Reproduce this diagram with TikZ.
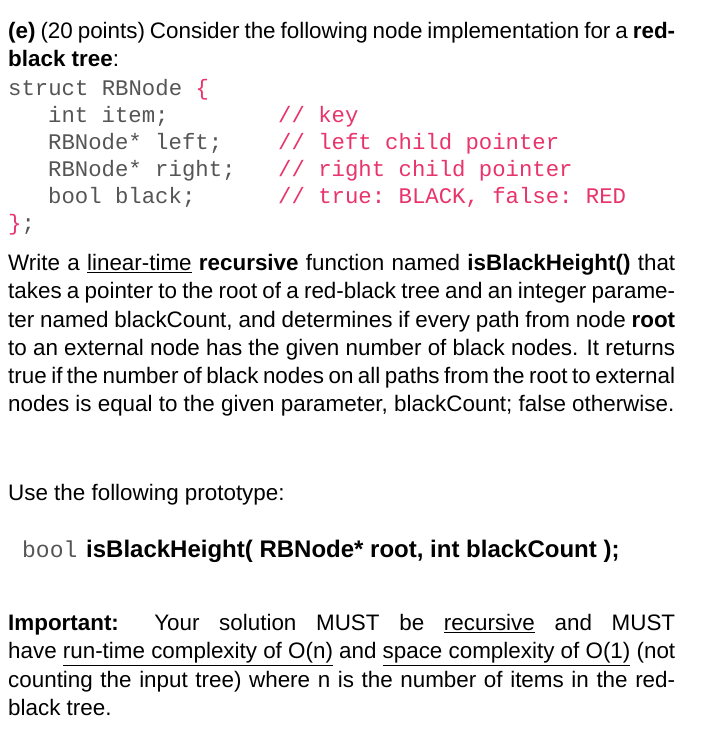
\documentclass[tikz,border=0pt]{standalone}
\usepackage{fontspec}
\setmainfont{Liberation Sans}
\setmonofont{Liberation Mono}
\usepackage{xcolor}
\definecolor{cm}{HTML}{E8336B}
\definecolor{cd}{HTML}{555555}
\newcommand{\nohyph}{\hyphenpenalty=10000\relax\exhyphenpenalty=10000\relax}
\begin{document}
\begin{tikzpicture}[x=1pt,y=-1pt,
  para/.style={anchor=north west,inner sep=0pt,text width=667pt,align=justify,font=\fontsize{22.4}{28.3}\selectfont},
  code/.style={anchor=base west,inner sep=0pt,font=\fontsize{22.3}{27}\ttfamily,text=cd},
  cmt/.style={anchor=base west,inner sep=0pt,font=\fontsize{22.3}{27}\ttfamily,text=cm}]
\useasboundingbox[fill=white] (0,0) rectangle (703,756);
\node[para] (head) at (8,22) {\nohyph\textbf{(e)} (20 points) Consider the following node implementation for a \textbf{red-black tree}:};
\node[code] (c1) at (8,95) {struct RBNode \textcolor{cm}{\{}};
\node[code] (c2) at (48,122) {int item;};
\node[code] (c3) at (48,149) {RBNode* left;};
\node[code] (c4) at (48,176) {RBNode* right;};
\node[code] (c5) at (48,203) {bool black;};
\node[code] (c6) at (8,230) {\textcolor{cm}{\}};};
\node[cmt] (m2) at (278,122) {// key};
\node[cmt] (m3) at (278,149) {// left child pointer};
\node[cmt] (m4) at (278,176) {// right child pointer};
\node[cmt] (m5) at (278,203) {// true: BLACK, false: RED};
\node[para] (p1) at (8,254) {\nohyph Write a \underline{linear-time} \textbf{recursive} function named \textbf{isBlackHeight()} that takes a pointer to the root of a red-black tree and an integer parameter named blackCount, and determines if every path from node \textbf{root} to an external node has the given number of black nodes. It returns true if the number of black nodes on all paths from the root to external nodes is equal to the given parameter, blackCount; false otherwise.};
\node[para] (p2) at (8,484) {Use the following prototype:};
\node[anchor=base west,inner sep=0pt] (proto) at (22,557) {{\fontsize{23}{28}\ttfamily\color{cd}bool}\hspace{6pt} {\fontsize{24}{28}\selectfont\bfseries isBlackHeight( RBNode* root, int blackCount );}};
\node[para] (p3) at (8,614) {\nohyph\textbf{Important:} Your solution MUST be \underline{recursive} and MUST have \underline{run-time complexity of O(n)} and \underline{space complexity of O(1)} (not counting the input tree) where n is the number of items in the red-black tree.};
\end{tikzpicture}
\end{document}
